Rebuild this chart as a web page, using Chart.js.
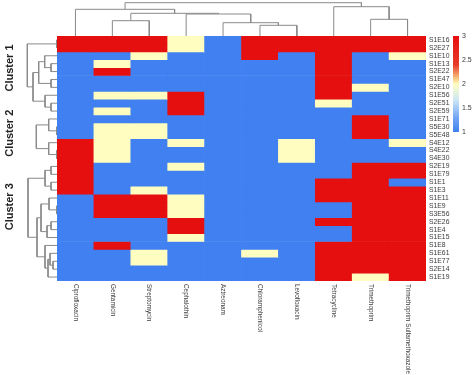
<!DOCTYPE html>
<html><head><meta charset="utf-8">
<script src="https://cdn.jsdelivr.net/npm/chart.js@4.4.1/dist/chart.umd.min.js"></script>
<style>html,body{margin:0;padding:0;background:#fff}#wrap{width:474px;height:375px;position:relative}</style>
</head><body><div id="wrap"><canvas id="c" width="474" height="375"></canvas></div>
<script>
// ---------- DATA ----------
const antibiotics = ['Ciprofloxacin','Gentamicin','Streptomycin','Cephalothin','Aztreonam','Chloramphenicol','Levofloxacin','Tetracycline','Trimethoprim','Trimethoprim Sulfamethoxazole'];
const isolates = ['S1E16','S2E27','S1E10','S1E13','S2E22','S1E47','S2E10','S1E56','S2E51','S2E59','S1E71','S5E30','S5E48','S4E12','S4E22','S4E30','S2E19','S1E79','S1E1','S1E3','S1E11','S1E9','S3E56','S2E26','S1E4','S1E15','S1E8','S1E61','S1E77','S2E14','S1E19'];
// resistance level per isolate (1 = susceptible, 2 = intermediate, 3 = resistant)
const ciprofloxacin   = [3,3,1,1,1,1,1,1,1,1,1,1,1,3,3,3,3,3,3,3,1,1,1,1,1,1,1,1,1,1,1];
const gentamicin      = [3,3,1,2,3,1,1,2,1,2,1,2,2,2,2,2,1,1,1,1,3,3,3,1,1,1,3,1,1,1,1];
const streptomycin    = [3,3,2,1,1,1,1,2,1,1,1,2,2,1,1,1,1,1,1,2,3,3,3,1,1,1,1,2,2,1,1];
const cephalothin     = [2,2,1,1,1,1,1,3,3,3,1,1,1,2,1,1,2,1,1,1,2,2,2,3,3,2,1,1,1,1,1];
const aztreonam       = [1,1,1,1,1,1,1,1,1,1,1,1,1,1,1,1,1,1,1,1,1,1,1,1,1,1,1,1,1,1,1];
const chloramphenicol = [3,3,3,1,1,1,1,1,1,1,1,1,1,1,1,1,1,1,1,1,1,1,1,1,1,1,1,2,1,1,1];
const levofloxacin    = [3,3,1,1,1,1,1,1,1,1,1,1,1,2,2,2,1,1,1,1,1,1,1,1,1,1,1,1,1,1,1];
const tetracycline    = [3,3,3,3,3,3,3,3,2,1,1,1,1,1,1,1,1,1,3,3,3,1,1,3,1,1,3,3,3,3,3];
const trimethoprim    = [3,3,1,1,1,1,2,1,1,1,3,3,3,1,1,1,3,3,3,3,3,3,3,3,3,3,3,3,3,3,2];
const trimSulfa       = [3,3,2,1,1,1,1,1,1,1,1,1,1,2,1,1,3,3,1,3,3,3,3,3,3,3,3,3,3,3,3];
const colorbarTicks = [1, 1.5, 2, 2.5, 3];
const clusterLabels = ['Cluster 1','Cluster 2','Cluster 3'];
const clusterCenters = [4.05, 12.3, 21.6]; // row position of each cluster label
// column dendrogram: [left, right, height]; ids >= 10 are earlier merges
const colLinkage = [[1,2,15.3],[5,6,10.7],[4,11,13.3],[3,12,22],[10,13,22.7],[0,14,26.7],[8,9,16.7],[7,16,29.3],[15,17,33.3]];
// row dendrogram (three separate cluster trees): ids >= 31 are earlier merges
const rowLinkage = [
 [0,1,0.4],[3,4,6],[2,32,12.3],[5,6,6],[33,34,18.3],[8,9,6],[7,36,12],[35,37,24],[31,38,29.7],
 [11,12,0.4],[10,40,8.3],[14,15,0.4],[13,42,8.3],[41,43,20.7],
 [16,17,6],[18,19,6],[45,46,12],[21,22,0.4],[20,48,8],[23,24,6],[50,25,10],[28,29,4],[27,52,7],[53,30,9],[26,54,12],[49,51,16],[56,55,20],[47,57,29]
];
// ---------- END DATA ----------

const columns = [ciprofloxacin,gentamicin,streptomycin,cephalothin,aztreonam,chloramphenicol,levofloxacin,tetracycline,trimethoprim,trimSulfa];
const RED='#e50f0f', YEL='#fffdc0', BLU='#4080f0';
const colorOf = v => v>=3?RED:(v>=2?YEL:BLU);
const FONT='"Liberation Sans", Arial, sans-serif';

const heatDatasets = isolates.map((name, r) => ({
  type:'bar', label:name, xAxisID:'x', yAxisID:'y',
  data: antibiotics.map(()=>1),
  backgroundColor: columns.map(col => colorOf(col[r])),
  borderWidth:0, barPercentage:1, categoryPercentage:1, stack:'s', grouped:false
}));

function dendroPoints(linkage, nLeaves, leafPos, toPoint){
  const pos = [], hgt = [];
  for(let i=0;i<nLeaves;i++){pos[i]=leafPos(i);hgt[i]=0;}
  const pts=[];
  linkage.forEach((m,k)=>{
    const [a,b,h]=m, id=nLeaves+k;
    pos[id]=(pos[a]+pos[b])/2; hgt[id]=h;
    pts.push(toPoint(pos[a],hgt[a]),toPoint(pos[a],h),toPoint(pos[b],h),toPoint(pos[b],hgt[b]));
    const g=toPoint(pos[b],hgt[b]); g.y=null; pts.push(g);
  });
  return pts;
}
const topPts = dendroPoints(colLinkage, antibiotics.length, i=>i, (p,h)=>({x:p,y:h}));
const leftPts = dendroPoints(rowLinkage, isolates.length, i=>i+0.5, (p,h)=>({x:-h,y:p}));

const lineStyle = {type:'line', borderColor:'#8a8a8a', borderWidth:1, pointRadius:0, fill:false, clip:false, spanGaps:false, tension:0};

const overlay = {
  id:'overlay',
  afterDraw(chart){
    const ctx=chart.ctx, xs=chart.scales.x, ys=chart.scales.y, ca=chart.chartArea;
    ctx.save();
    ctx.fillStyle='#3a3a3a'; ctx.font='6.4px '+FONT;
    ctx.textAlign='left'; ctx.textBaseline='middle';
    antibiotics.forEach((a,i)=>{
      ctx.save(); ctx.translate(xs.getPixelForValue(i), ca.bottom+3); ctx.rotate(Math.PI/2);
      ctx.fillText(a,0,0); ctx.restore();
    });
    ctx.fillStyle='#222'; ctx.font='bold 11px '+FONT; ctx.textAlign='center';
    clusterLabels.forEach((t,i)=>{
      ctx.save(); ctx.translate(10, ys.getPixelForValue(clusterCenters[i])); ctx.rotate(-Math.PI/2);
      ctx.fillText(t,0,0); ctx.restore();
    });
    const cx=453, cw=6, top=ca.top, bot=ca.top+96;
    const g=ctx.createLinearGradient(0,top,0,bot);
    g.addColorStop(0,RED); g.addColorStop(0.3,'#e83a2a'); g.addColorStop(0.42,'#f6b070');
    g.addColorStop(0.5,YEL); g.addColorStop(0.66,'#cfeaf6'); g.addColorStop(0.85,'#73a6f2'); g.addColorStop(1,BLU);
    ctx.fillStyle=g; ctx.fillRect(cx,top,cw,bot-top);
    ctx.fillStyle='#3a3a3a'; ctx.font='7px '+FONT; ctx.textAlign='left';
    colorbarTicks.forEach(v=>{
      const y = bot - (v-1)/2*(bot-top);
      ctx.fillText(String(v), cx+cw+3, y);
    });
    ctx.restore();
  }
};

new Chart(document.getElementById('c'), {
  type:'bar',
  data:{
    labels: antibiotics,
    datasets:[...heatDatasets,
      Object.assign({label:'cols', data:topPts, xAxisID:'xt', yAxisID:'yt'}, lineStyle),
      Object.assign({label:'rows', data:leftPts, xAxisID:'xl', yAxisID:'yl'}, lineStyle)
    ]
  },
  options:{
    responsive:false, animation:false, devicePixelRatio:1,
    layout:{padding:{left:57,top:36,right:0,bottom:94}},
    plugins:{legend:{display:false}, tooltip:{enabled:false}},
    scales:{
      x:{type:'category', display:false, stacked:true, offset:true},
      y:{type:'linear', display:false, stacked:true, min:0, max:isolates.length, reverse:true},
      rows:{type:'category', labels:isolates, position:'right', offset:true, axis:'y',
        grid:{display:false, drawTicks:false}, border:{display:false},
        ticks:{autoSkip:false, padding:3, color:'#3a3a3a', font:{size:6.8, family:FONT}},
        afterFit(s){ s.width = 48; }},
      xt:{type:'linear', display:false, offset:false, min:-0.5, max:antibiotics.length-0.5, axis:'x'},
      yt:{type:'linear', display:false, offset:false, min:-245, max:0, axis:'y'},
      xl:{type:'linear', display:false, offset:false, min:0, max:369, axis:'x'},
      yl:{type:'linear', display:false, offset:false, min:0, max:isolates.length, reverse:true, axis:'y'}
    }
  },
  plugins:[overlay]
});
</script></body></html>
